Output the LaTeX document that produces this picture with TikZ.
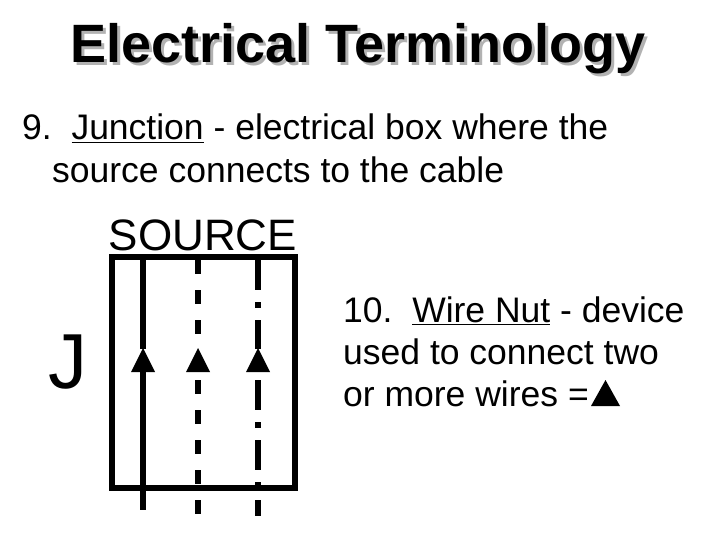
\documentclass[tikz,border=0pt]{standalone}
\usepackage{fontspec}
\setmainfont{Liberation Sans}
\usetikzlibrary{arrows.meta}
\begin{document}
\begin{tikzpicture}[x=1pt,y=-1pt,
  wire/.style={line width=6pt},
  txt/.style={anchor=base west,inner sep=0pt,font=\fontsize{35.5}{40}\selectfont}]
\useasboundingbox (0,0) rectangle (720,540);
\node[anchor=base,inner sep=0pt,font=\fontsize{54}{60}\selectfont\bfseries,text=gray!60] (shadow) at (361,66) {Electrical Terminology};
\node[anchor=base,inner sep=0pt,font=\fontsize{54}{60}\selectfont\bfseries] (title) at (358,63) {Electrical Terminology};
\node[txt] (t9a) at (22,140) {9.\ \ \underline{Junction} - electrical box where the};
\node[txt] (t9b) at (52,183) {source connects to the cable};
\node[anchor=base,inner sep=0pt,font=\fontsize{44}{50}\selectfont] (src) at (203,250) {SOURCE};
\node[anchor=base,inner sep=0pt,font=\fontsize{78}{80}\selectfont] (J) at (68,388) {J};
\node[txt] (t10a) at (343,322) {10.\ \ \underline{Wire Nut} - device};
\node[txt] (t10b) at (343,364) {used to connect two};
\node[txt] (t10c) at (343,406) {or more wires =};
\coordinate (tri) at ([xshift=2pt]t10c.base east);
\fill (tri) -- ++(29,0) -- ++(-14.5,-26) -- cycle;
\draw[wire] (112,257) rectangle (295,488);
\coordinate (a1) at (143,260); \coordinate (a2) at (143,510);
\coordinate (b1) at (198,260); \coordinate (b2) at (198,523);
\coordinate (c1) at (258,260); \coordinate (c2) at (258,516);
\draw[wire] (a1) -- (a2);
\draw[wire,dash pattern=on 14pt off 16pt] (b1) -- (b2);
\draw[wire,dash pattern=on 30pt off 12pt on 6pt off 12pt] (c1) -- (c2);
\foreach \x in {143,198,258}{\fill[white] (\x-12,349) rectangle (\x+12,371);
  \fill (\x-12,372) -- (\x+12,372) -- (\x,348) -- cycle;}
\end{tikzpicture}
\end{document}
